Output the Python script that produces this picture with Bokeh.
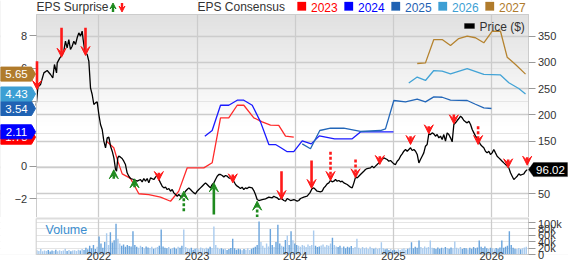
import numpy as np
from bokeh.plotting import figure
from bokeh.models import (Range1d, LinearAxis, FixedTicker, ColumnDataSource, Arrow,
                          VeeHead, Label, PolyAnnotation, Grid)
from bokeh.layouts import column
from bokeh.embed import file_html
from bokeh.resources import INLINE

FONT = "Liberation Sans"

# ---------------- data ----------------
year_ticks = [2022, 2023, 2024, 2025, 2026]
year_labels = ["2022", "2023", "2024", "2025", "2026"]
eps_ticks = [-2, 0, 2, 4, 6, 8]
price_ticks = [50, 100, 150, 200, 250, 300, 350]
vol_ticks = [0, 20000, 40000, 60000, 80000, 100000]
vol_tick_labels = ["0", "20k", "40k", "60k", "80k", "100k"]

price_t = [2021.362, 2021.379, 2021.406, 2021.440, 2021.474, 2021.508, 2021.531, 2021.548, 2021.569, 2021.576,
           2021.603, 2021.626, 2021.643, 2021.660, 2021.677, 2021.694, 2021.711, 2021.728, 2021.745, 2021.762,
           2021.779, 2021.796, 2021.813, 2021.830, 2021.840, 2021.857, 2021.881, 2021.898, 2021.915, 2021.932,
           2021.949, 2021.966, 2021.983, 2022.000, 2022.017, 2022.034, 2022.051, 2022.068, 2022.085, 2022.102,
           2022.119, 2022.136, 2022.153, 2022.170, 2022.180, 2022.193, 2022.203, 2022.221, 2022.237, 2022.254,
           2022.271, 2022.288, 2022.305, 2022.322, 2022.356, 2022.390, 2022.424, 2022.441, 2022.458, 2022.475,
           2022.492, 2022.509, 2022.526, 2022.560, 2022.577, 2022.594, 2022.611, 2022.628,
           2022.645, 2022.662, 2022.679, 2022.696, 2022.713, 2022.730, 2022.747, 2022.764, 2022.781, 2022.798,
           2022.814, 2022.832, 2022.848, 2022.882, 2022.899, 2022.916, 2022.933, 2022.950, 2022.967, 2022.984,
           2023.001, 2023.018, 2023.035, 2023.052, 2023.069, 2023.086, 2023.103, 2023.120, 2023.137, 2023.154,
           2023.171, 2023.188, 2023.205, 2023.222, 2023.239, 2023.256, 2023.273, 2023.290, 2023.307, 2023.324,
           2023.341, 2023.364, 2023.392, 2023.409, 2023.425, 2023.442, 2023.459, 2023.476, 2023.493, 2023.510,
           2023.527, 2023.561, 2023.578, 2023.595, 2023.612, 2023.629, 2023.663, 2023.697, 2023.731, 2023.765,
           2023.782, 2023.799, 2023.816, 2023.833, 2023.860, 2023.884, 2023.901,
           2023.918, 2023.952, 2023.986, 2024.020, 2024.036, 2024.053, 2024.087, 2024.121, 2024.149, 2024.172,
           2024.189, 2024.206, 2024.223, 2024.257, 2024.274, 2024.291, 2024.308, 2024.325, 2024.342, 2024.359,
           2024.376, 2024.393, 2024.410, 2024.427, 2024.444, 2024.461, 2024.478, 2024.495, 2024.529, 2024.563,
           2024.580, 2024.597, 2024.614, 2024.631, 2024.647, 2024.664, 2024.698, 2024.715, 2024.732, 2024.766,
           2024.783, 2024.800, 2024.817, 2024.834, 2024.851, 2024.868, 2024.885, 2024.902, 2024.936, 2024.953,
           2024.970, 2025.004, 2025.021, 2025.038, 2025.055, 2025.072, 2025.089, 2025.106,
           2025.123, 2025.140, 2025.157, 2025.174, 2025.191, 2025.208, 2025.225, 2025.242, 2025.259, 2025.275,
           2025.292, 2025.309, 2025.326, 2025.343, 2025.360, 2025.377, 2025.394, 2025.411, 2025.428, 2025.445,
           2025.462, 2025.479, 2025.496, 2025.513, 2025.530, 2025.547, 2025.564, 2025.581, 2025.598, 2025.615,
           2025.632, 2025.649, 2025.666, 2025.683, 2025.700, 2025.717, 2025.734, 2025.751, 2025.768, 2025.785,
           2025.802, 2025.819, 2025.836, 2025.853, 2025.870, 2025.886, 2025.903, 2025.920, 2025.937, 2025.954,
           2025.971, 2025.988, 2026.005, 2026.022, 2026.039, 2026.056, 2026.073, 2026.090, 2026.107, 2026.124,
           2026.158, 2026.175, 2026.192, 2026.209, 2026.226, 2026.243, 2026.260, 2026.277, 2026.294, 2026.311,
           2026.328, 2026.345, 2026.362]
price_v = [218.0, 253.0, 258.0, 280.2, 284.7, 277.1, 270.7, 296.1, 280.2, 299.3,
           308.8, 313.9, 321.5, 340.5, 327.8, 343.7, 324.7, 331.0, 340.5, 334.2,
           346.9, 356.4, 350.1, 359.6, 343.7, 321.5, 315.1, 302.5, 251.7, 239.0,
           220.0, 223.1, 225.0, 200.9, 181.9, 172.4, 150.2, 137.5, 156.5, 157.8,
           140.6, 131.1, 118.4, 96.2, 93.0, 118.4, 121.6, 119.7, 117.2, 112.1,
           105.7, 89.9, 83.5, 79.1, 77.2, 74.0, 77.2, 72.7, 79.1, 74.0,
           79.1, 70.8, 80.3, 77.2, 81.6, 85.4, 77.2, 70.8,
           64.5, 61.3, 62.6, 58.1, 60.0, 54.9, 58.1, 51.8, 48.6, 45.4,
           48.6, 45.4, 43.5, 54.9, 58.1, 61.3, 58.1, 54.9, 51.8, 49.9,
           54.9, 58.1, 61.3, 64.5, 67.7, 70.8, 67.7, 64.5, 61.3, 67.7,
           70.8, 77.2, 83.5, 86.7, 86.7, 84.8, 82.2, 84.8, 83.5, 80.3,
           79.1, 77.2, 67.7, 64.5, 62.6, 60.0, 62.6, 58.1, 61.3, 60.0,
           62.6, 61.3, 56.2, 48.6, 39.1, 37.2, 39.1, 40.4, 43.5, 42.3,
           45.4, 43.5, 42.3, 39.1, 41.0, 37.2, 35.9,
           41.0, 37.2, 39.1, 35.9, 37.2, 41.0, 43.5, 45.4, 51.8, 60.0,
           61.3, 58.1, 54.9, 53.7, 54.9, 61.3, 64.5, 68.9, 70.8, 75.3,
           72.7, 74.0, 77.2, 74.0, 75.3, 72.7, 74.0, 70.8, 67.7, 62.6,
           61.3, 70.8, 81.6, 80.3, 83.5, 86.7, 93.0, 96.2, 98.1, 99.4,
           102.6, 99.4, 102.6, 105.7, 108.9, 112.1, 115.2, 118.4, 115.2, 112.1,
           113.4, 107.0, 105.7, 112.1, 115.2, 121.6, 126.0, 131.1,
           134.3, 131.1, 134.3, 137.5, 132.4, 134.3, 131.1, 124.8, 108.9, 115.2,
           121.6, 127.9, 140.6, 143.8, 164.1, 162.8, 166.0, 164.1, 159.7, 162.8,
           156.5, 159.7, 153.3, 162.8, 150.2, 166.0, 162.8, 156.5, 148.9, 181.9,
           185.1, 189.5, 193.3, 197.7, 194.6, 189.5, 187.0, 185.1, 188.2, 181.9,
           172.4, 166.0, 159.7, 156.5, 150.2, 143.8, 140.6, 137.5, 131.1, 127.9,
           131.1, 124.8, 127.9, 134.3, 127.9, 121.6, 118.4, 115.2, 112.1, 108.9,
           102.6, 99.4, 89.9, 83.5, 77.2, 80.3, 83.5, 87.9, 85.4, 86.7,
           87.9, 93.0, 96.02]

# EPS consensus series (left axis)
c2023_t = [2022.078, 2022.152, 2022.193, 2022.238, 2022.322, 2022.407, 2022.509, 2022.628, 2022.730, 2022.814,
           2022.900, 2023.069, 2023.154, 2023.239, 2023.323, 2023.409, 2023.476, 2023.578, 2023.663, 2023.748,
           2023.832, 2023.901, 2023.985]
c2023_v = [1.53, 1.13, 0.31, -0.47, -0.75, -1.69, -1.74, -1.90, -2.15, -1.53,
           -0.10, -0.10, 0.21, 2.97, 2.97, 3.74, 3.74, 2.97, 2.72, 2.52,
           2.50, 1.84, 1.78]
c2024_t = [2023.079, 2023.154, 2023.239, 2023.323, 2023.409, 2023.476, 2023.562, 2023.646, 2023.731, 2023.799,
           2023.850, 2023.918, 2023.985, 2024.071, 2024.163, 2024.245, 2024.400, 2024.580, 2024.664, 2024.835,
           2025.000]
c2024_v = [1.84, 2.19, 3.74, 3.74, 4.05, 4.05, 3.74, 2.72, 1.33, 1.33,
           1.15, 0.89, 0.89, 1.55, 1.37, 1.86, 1.68, 1.68, 2.10, 2.11,
           2.11]
c2025_t = [2024.071, 2024.155, 2024.250, 2024.359, 2024.494, 2024.664, 2024.868, 2024.919, 2025.004, 2025.123,
           2025.242, 2025.326, 2025.411, 2025.496, 2025.581, 2025.751, 2025.835, 2025.920, 2025.998]
c2025_v = [1.37, 1.07, 2.19, 2.33, 2.33, 2.13, 2.19, 2.29, 4.03, 3.95,
           4.12, 3.95, 4.25, 4.23, 4.06, 4.03, 3.80, 3.58, 3.54]
c2026_t = [2025.156, 2025.242, 2025.326, 2025.411, 2025.496, 2025.581, 2025.751, 2025.920, 2026.090, 2026.175,
           2026.276, 2026.345]
c2026_v = [5.10, 5.47, 5.26, 5.87, 5.83, 5.67, 5.99, 5.63, 5.60, 5.12,
           4.77, 4.43]
c2027_t = [2025.242, 2025.326, 2025.411, 2025.496, 2025.581, 2025.665, 2025.751, 2025.835, 2025.920, 2026.006,
           2026.090, 2026.158, 2026.243, 2026.345]
c2027_v = [6.30, 6.34, 7.77, 7.77, 7.40, 7.83, 7.98, 7.88, 7.57, 8.28,
           8.28, 6.69, 6.24, 5.65]

# EPS surprise arrows (drawn against price axis)
surp_t = [2021.370, 2021.620, 2021.864, 2022.152, 2022.363, 2022.611, 2022.865, 2023.171, 2023.364, 2023.612,
          2023.860, 2024.166, 2024.359, 2024.614, 2024.861, 2025.174, 2025.360, 2025.615, 2025.862, 2026.168,
          2026.362]
surp_tail = [302.4, 366.0, 366.0, 78.5, 62.5, 90.0, 16.9, 10.6, 86.7, 5.0,
             93.0, 113.4, 129.9, 115.3, 121.6, 159.6, 178.7, 200.9, 178.7, 115.3,
             119.7]
surp_tip = [248.5, 310.0, 313.3, 95.7, 78.5, 75.3, 55.0, 70.9, 70.9, 35.9,
            39.1, 60.1, 75.3, 80.4, 105.8, 143.8, 164.2, 183.2, 143.8, 99.5,
            104.4]
surp_beat = [False, False, False, True, True, False, True, True, False, True,
             False, False, False, False, False, False, False, False, False, False,
             False]
surp_strong = [True, True, True, True, True, True, False, True, True, False,
               True, True, False, False, False, True, False, True, False, True,
               True]

# weekly volume (thousands)
vol_start = 2021.37
vol_v = [14, 12, 18, 11, 13, 12, 15, 10, 13, 12,
         16, 11, 14, 12, 13, 19, 12, 15, 11, 13,
         14, 12, 16, 13, 18, 15, 22, 17, 28, 20,
         30, 18, 25, 57, 35, 22, 40, 67, 30, 70,
         38, 45, 96, 50, 35, 28, 32, 25, 30, 27,
         26, 73, 30, 25, 22, 28, 24, 20, 26, 23,
         21, 25, 19, 22, 24, 28, 78, 26, 22, 20,
         24, 18, 21, 23, 19, 25, 22, 28, 78, 24,
         20, 18, 22, 16, 19, 21, 17, 23, 20, 18,
         22, 19, 25, 21, 88, 30, 22, 18, 20, 17,
         19, 15, 18, 21, 50, 20, 16, 19, 17, 14,
         18, 16, 20, 15, 19, 22, 25, 30, 103, 40,
         28, 22, 35, 26, 80, 30, 24, 40, 93, 35,
         28, 25, 46, 60, 30, 73, 45, 35, 30, 28,
         25, 30, 28, 24, 32, 27, 30, 75, 28, 24,
         26, 29, 32, 25, 30, 28, 35, 53, 30, 26,
         24, 28, 22, 26, 20, 25, 23, 27, 21, 24,
         50, 22, 19, 24, 20, 23, 18, 25, 21, 19,
         22, 18, 20, 39, 20, 17, 19, 15, 18, 14,
         16, 13, 17, 15, 18, 20, 16, 19, 22, 39,
         20, 25, 22, 44, 24, 20, 26, 22, 24, 44,
         22, 20, 18, 23, 19, 22, 20, 24, 21, 19,
         23, 20, 41, 22, 19, 24, 18, 21, 20, 17,
         22, 19, 24, 20, 23, 44, 25, 21, 26, 20,
         18, 22, 20, 17, 21, 19, 23, 44, 22, 25,
         28, 73, 30, 22, 19, 18, 21, 17, 20, 23, 25]

# ---------------- styling / geometry ----------------
C2023, C2024, C2025, C2026, C2027 = "#ff2a2a", "#1a1aff", "#2266b8", "#42a3d6", "#b5832f"
B2023, B2024, B2025, B2026, B2027 = "#ff0000", "#0000ff", "#1f62b3", "#3d9fd4", "#b07b2c"
GRID = "#cccccc"
TXT = "#333333"

PXY = 98.2                       # pixels per year
X0, X1 = 2021.362, 2026.38       # plotted time span
XL, XR = X0 - 35.7 / PXY, X0 + 532.3 / PXY   # whole canvas width
EPS0, EPS1 = -3.147, 9.307       # EPS span of price pane
EPST = 10.166                    # canvas top in EPS units
PR0, PR1 = 4.86, 391.3           # price span of price pane
PRT = 417.96                     # canvas top in price units
V0, V1 = -30000, 115500          # volume pane canvas span
VMAX = 112000


def price_to_eps(v):
    return EPS0 + (v - PR0) * (EPST - EPS0) / (PRT - PR0)


xr = Range1d(XL, XR)

p = figure(width=568, height=217, x_range=xr, y_range=Range1d(EPS0, EPST),
           output_backend="svg", toolbar_location=None, x_axis_location=None, y_axis_location=None,
           min_border=0, min_border_left=0, min_border_right=0, min_border_top=0, min_border_bottom=0)
p.extra_y_ranges = {"price": Range1d(PR0, PRT)}
p.outline_line_color = None
p.background_fill_color = "white"
p.border_fill_color = "white"

# gradient background of the price pane
n = 240
img = np.empty((n, 1), dtype=np.uint32)
view = img.view(dtype=np.uint8).reshape((n, 1, 4))
frac = np.linspace(0, 1, n)  # 0 bottom -> 1 top
shade = np.where(frac < 0.45, 255, 255 - (frac - 0.45) / 0.55 * 30).astype(np.uint8)
view[:, 0, 0] = shade
view[:, 0, 1] = shade
view[:, 0, 2] = shade
view[:, 0, 3] = 255
p.image_rgba(image=[img], x=X0, y=EPS0, dw=X1 - X0, dh=EPS1 - EPS0, level="image")

p.add_layout(Grid(dimension=0, ticker=FixedTicker(ticks=year_ticks), grid_line_color=GRID, grid_line_width=1.3))
p.add_layout(Grid(dimension=1, ticker=FixedTicker(ticks=price_ticks), y_range_name="price",
                  grid_line_color=GRID, grid_line_width=1.3))

# white masks outside the pane (header strip, left and right margins)
p.quad(left=[XL, X1, X0], right=[X0, XR, X1], bottom=[EPS0, EPS0, EPS1], top=[EPST, EPST, EPST],
       fill_color="white", line_color=None)
p.segment(x0=[X0], x1=[X1], y0=[EPS1], y1=[EPS1], line_color=GRID, line_width=1)

# axes fixed at the pane edges
ya = LinearAxis(fixed_location=X0, ticker=FixedTicker(ticks=eps_ticks), bounds=(EPS0, EPS1))
p.add_layout(ya, "left")
pax = LinearAxis(fixed_location=X1, y_range_name="price", ticker=FixedTicker(ticks=price_ticks),
                 bounds=(PR0, PR1))
p.add_layout(pax, "right")
for ax in [ya, pax]:
    ax.axis_line_color = GRID
    ax.major_tick_out = 7
    ax.major_tick_in = 0
    ax.minor_tick_line_color = None
    ax.major_tick_line_color = "#999999"
    ax.major_label_text_font = FONT
    ax.major_label_text_font_size = "11px"
    ax.major_label_text_color = TXT
    ax.major_label_standoff = 2

# consensus lines
for t, v, c in [(c2023_t, c2023_v, C2023), (c2024_t, c2024_v, C2024), (c2025_t, c2025_v, C2025),
                (c2026_t, c2026_v, C2026), (c2027_t, c2027_v, C2027)]:
    p.line(t, v, line_color=c, line_width=1.3)

# price line
p.line(price_t, price_v, y_range_name="price", line_color="black", line_width=1.3)

# surprise arrows
for beat in [True, False]:
    for strong in [True, False]:
        idx = [i for i in range(len(surp_t)) if surp_beat[i] == beat and surp_strong[i] == strong]
        if not idx:
            continue
        col = "#1e8a1e" if beat else "#ff1a1a"
        src = ColumnDataSource(dict(x=[surp_t[i] for i in idx], y0=[surp_tail[i] for i in idx],
                                    y1=[surp_tip[i] for i in idx]))
        p.add_layout(Arrow(source=src, x_start="x", y_start="y0", x_end="x", y_end="y1",
                           y_range_name="price", line_color=col, line_width=2.6,
                           line_dash="solid" if strong else "3 2",
                           end=VeeHead(size=9, fill_color=col, line_color=col, line_width=1)))

# left badges with last consensus values
for v, c in [(c2023_v[-1], B2023), (c2024_v[-1], B2024), (c2025_v[-1], B2025),
             (c2026_v[-1], B2026), (c2027_v[-1], B2027)]:
    h = 0.43
    p.add_layout(PolyAnnotation(xs=[0, 31, 35, 31, 0], xs_units="canvas",
                                ys=[v + h, v + h, v, v - h, v - h], ys_units="data",
                                fill_color=c, fill_alpha=1, line_color=c, line_alpha=1))
    p.add_layout(Label(x=16, x_units="canvas", y=v, y_units="data", text=f"{v:.2f}",
                       text_align="center", text_baseline="middle", text_color="white",
                       text_font=FONT, text_font_size="11.5px"))

# price badge (last close)
last = price_v[-1]
le = price_to_eps(last)
h = 0.43
p.add_layout(PolyAnnotation(xs=[528, 533, 567, 567, 533], xs_units="canvas",
                            ys=[le, le + h, le + h, le - h, le - h], ys_units="data",
                            fill_color="black", fill_alpha=1, line_color="black"))
p.add_layout(Label(x=550, x_units="canvas", y=le, y_units="data",
                   text=f"{last:.2f}", text_align="center", text_baseline="middle", text_color="white",
                   text_font=FONT, text_font_size="11.5px"))

# header
def hlabel(x, y, text, color=TXT, size="12px", align="left"):
    p.add_layout(Label(x=x, y=y, x_units="canvas", y_units="canvas", text=text, text_color=color,
                       text_font=FONT, text_font_size=size, text_baseline="middle", text_align=align))

hlabel(36, 6.5, "EPS Surprise")
p.add_layout(Arrow(x_start=112.5, y_start=11.5, x_end=112.5, y_end=2.5, start_units="canvas", end_units="canvas",
                   line_color="#1e8a1e", line_width=2.4,
                   end=VeeHead(size=6, fill_color="#1e8a1e", line_color="#1e8a1e")))
p.add_layout(Arrow(x_start=121.5, y_start=2.5, x_end=121.5, y_end=11.5, start_units="canvas", end_units="canvas",
                   line_color="#ff1a1a", line_width=2.4,
                   end=VeeHead(size=6, fill_color="#ff1a1a", line_color="#ff1a1a")))
hlabel(197, 6.5, "EPS Consensus")
for x, lab, c in [(297, "2023", B2023), (344, "2024", B2024), (391, "2025", B2025),
                  (438, "2026", B2026), (485, "2027", B2027)]:
    p.add_layout(PolyAnnotation(xs=[x, x + 8.5, x + 8.5, x], ys=[1.5, 1.5, 10, 10], xs_units="canvas",
                                ys_units="canvas", fill_color=c, fill_alpha=1, line_color=c))
    hlabel(x + 13.5, 6.5, lab, color=c)
p.add_layout(PolyAnnotation(xs=[464, 474, 474, 464], ys=[23, 23, 28, 28], xs_units="canvas",
                            ys_units="canvas", fill_color="black", fill_alpha=1, line_color="black"))
hlabel(479, 26, "Price ($)")

# ---------------- volume pane ----------------
p2 = figure(width=568, height=47, x_range=xr, y_range=Range1d(V0, V1),
            output_backend="svg", toolbar_location=None, x_axis_location=None, y_axis_location=None,
            min_border=0, min_border_left=0, min_border_right=0, min_border_top=0, min_border_bottom=0)
p2.outline_line_color = None
p2.border_fill_color = "white"
p2.add_layout(Grid(dimension=0, ticker=FixedTicker(ticks=year_ticks), grid_line_color=GRID, grid_line_width=1.3))

vol_t = [vol_start + i / 52.18 for i in range(len(vol_v))]
vol = [v * 1000 for v in vol_v]
pr_at = np.interp(vol_t, price_t, price_v)
vol_col = ["#6aa4dc" if i > 0 and pr_at[i] < pr_at[i - 1] else "#a9cbee" for i in range(len(vol_t))]
p2.vbar(x=vol_t, top=vol, width=0.75 / 52.18, fill_color=vol_col, line_color=None)

p2.quad(left=[XL, XL], right=[XR, X0], bottom=[V0, 0], top=[0, V1], fill_color="white", line_color=None)
p2.quad(left=[X1], right=[XR], bottom=[0], top=[V1], fill_color="white", line_color=None)
p2.segment(x0=[X0], x1=[X0], y0=[0], y1=[VMAX], line_color=GRID, line_width=1)
p2.segment(x0=[X0], x1=[X1], y0=[V1], y1=[V1], line_color="#dddddd", line_width=4)

vax = LinearAxis(fixed_location=X1, ticker=FixedTicker(ticks=vol_ticks), bounds=(0, VMAX))
vax.major_label_overrides = {t: l for t, l in zip(vol_ticks, vol_tick_labels)}
p2.add_layout(vax, "right")
xax = LinearAxis(fixed_location=0, ticker=FixedTicker(ticks=year_ticks), bounds=(X0, X1))
xax.major_label_overrides = {t: l for t, l in zip(year_ticks, year_labels)}
p2.add_layout(xax, "below")
xax.major_tick_out = 0
xax.major_tick_in = 0
xax.major_label_standoff = -3
for ax in [vax, xax]:
    ax.axis_line_color = GRID
    ax.minor_tick_line_color = None
    ax.major_tick_line_color = "#999999"
    ax.major_label_text_font = FONT
    ax.major_label_text_font_size = "11px"
    ax.major_label_text_color = TXT
vax.major_tick_out = 7
vax.major_tick_in = 0
vax.major_label_standoff = 2

p2.add_layout(Label(x=45, y=12, x_units="canvas", y_units="canvas", text="Volume",
                    text_color="#3b8ed0", text_font=FONT, text_font_size="12.5px", text_baseline="middle"))

layout = column(p, p2, spacing=0)
open("out.html", "w").write(file_html(layout, INLINE))
